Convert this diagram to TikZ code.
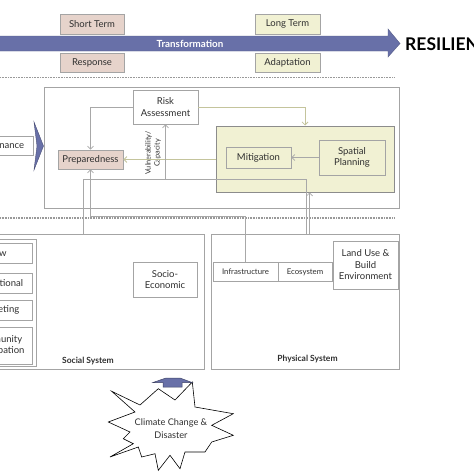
\documentclass[tikz,border=0pt]{standalone}
\usepackage{fontspec}
\setmainfont{Lato}
\usetikzlibrary{arrows.meta}
\definecolor{boxgray}{HTML}{A4A4A4}
\definecolor{linegray}{HTML}{A8A8A8}
\definecolor{lineyel}{HTML}{C4C49C}
\definecolor{pinkfill}{HTML}{E6D3CB}
\definecolor{yelfill}{HTML}{F1F1D3}
\definecolor{slate}{HTML}{6870A8}
\definecolor{txt}{HTML}{303030}
\tikzset{
  box/.style={draw=boxgray, line width=0.8pt, fill=white, inner sep=1pt, align=center,
    text=txt, font=\fontsize{9.5}{11.5}\selectfont},
  pinkbox/.style={box, fill=pinkfill},
  yelbox/.style={box, fill=yelfill},
  smallbox/.style={box, font=\fontsize{7.8}{9.5}\selectfont},
  frame/.style={draw=boxgray, line width=0.9pt, inner sep=0pt},
  conn/.style={draw=linegray, line width=0.7pt},
  connyel/.style={draw=lineyel, line width=0.8pt},
  arr/.style={-{Straight Barb[length=3pt,width=6pt]}},
  dotline/.style={draw=gray!80, line width=1.3pt, dash pattern=on 0.7pt off 0.9pt},
  lbl/.style={text=txt, font=\bfseries\fontsize{8.5}{10}\selectfont},
}
\begin{document}
\begin{tikzpicture}[x=1pt,y=-1pt]
\useasboundingbox (0,0) rectangle (474,474);
\clip (0,0) rectangle (474,474);
\fill[white] (0,0) rectangle (474,474);

% top band
\node[pinkbox, minimum width=64, minimum height=20] (short) at (92,24) {Short Term};
\node[pinkbox, minimum width=64, minimum height=19] (resp) at (92,62.5) {Response};
\node[yelbox, minimum width=65, minimum height=20] (long) at (287.5,24) {Long Term};
\node[yelbox, minimum width=65, minimum height=19] (adapt) at (287.5,62.5) {Adaptation};
\path[fill=slate, draw=slate!80!black, line width=0.4pt]
  (-5,36) -- (388,36) -- (388,29) -- (400,43.5) -- (388,57) -- (388,51) -- (-5,51) -- cycle;
\node[text=white, font=\bfseries\fontsize{9.8}{11}\selectfont] (transf) at (190,43.5) {Transformation};
\node[anchor=west, inner sep=0pt, font=\bfseries\fontsize{17.5}{19}\selectfont] (resil) at (405,44) {RESILIENCE};
\path[dotline] (0,77.5) -- (395,77.5);

% middle block
\node[frame, minimum width=355, minimum height=121] (mainbox) at (221.5,147.5) {};
\node[box, minimum width=68, minimum height=19] (gov) at (-1,145.5) {Governance};
\path[fill=slate, draw=slate!70!black, line width=0.4pt]
  (34,122) -- (43.5,146) -- (34,170) -- (37,146) -- cycle;
\node[box, minimum width=65, minimum height=34] (ra) at (165.5,107) {Risk\\Assessment};
\node[pinkbox, minimum width=65, minimum height=19] (prep) at (90.5,159.5) {Preparedness};
\node[yelbox, draw=gray!90, line width=1pt, minimum width=178, minimum height=66] (yelbig) at (305,159) {};
\node[yelbox, minimum width=65, minimum height=21] (mit) at (258.5,157.5) {Mitigation};
\node[yelbox, minimum width=66, minimum height=35] (sp) at (352,157.5) {Spatial\\Planning};
\node[rotate=90, align=center, text=txt, inner sep=0pt, font=\fontsize{7.3}{9}\selectfont] (vuln) at (153,153) {Vulnerability/\\Capacity};

% lower block
\node[frame, minimum width=248, minimum height=135] (social) at (80,301.5) {};
\node[frame, minimum width=76, minimum height=127] (column) at (-2,302.5) {};
\node[box, minimum width=68, minimum height=20] (law) at (-2,253) {Law};
\node[box, minimum width=68, minimum height=20] (inst) at (-2,283) {Institutional};
\node[box, minimum width=68, minimum height=20] (budg) at (-2,310) {Budgeting};
\node[box, minimum width=68, minimum height=37] (comm) at (-2,345.5) {Community\\Participation};
\node[box, minimum width=64, minimum height=35] (socio) at (165,279.5) {Socio-\\Economic};
\node[lbl] (soclbl) at (88,361) {Social System};
\node[frame, minimum width=188, minimum height=135] (phys) at (305,301.5) {};
\node[smallbox, minimum width=65, minimum height=19] (infra) at (245.5,272) {Infrastructure};
\node[smallbox, minimum width=54, minimum height=19] (eco) at (305,272) {Ecosystem};
\node[box, minimum width=65, minimum height=48] (land) at (365.5,265) {Land Use \&\\Build\\Environment};
\node[lbl] (physlbl) at (307.5,359) {Physical System};
\path[dotline] (0,218) -- (395,218);

% connectors
\coordinate (j1) at (83,179);
\coordinate (j2) at (306,179);
\coordinate (j3) at (165.5,179);
\coordinate (k) at (90.5,216);
\draw[conn, arr] (ra.west) -| (prep.north);
\draw[connyel, arr] (ra.east) -| (yelbig.north);
\draw[connyel, arr] (prep.east -| yelbig.west) -- (prep.east);
\draw[conn, arr] (sp.west) -- (mit.east);
\draw[conn] (social.north -| j1) -- (j1) -- (j2) -- (phys.north -| j2);
\draw[conn, arr] (j3) -- (ra.south);
\draw[conn, arr] (phys.north -| 309.5,0) -- (yelbig.south -| 309.5,0);
\draw[conn, arr] (infra.north) |- (k) -- (prep.south);

% climate change star
\path[draw=black, fill=white, line width=0.6pt]
  (111.7,391.3) -- (140,405) -- (158.3,388.7) -- (175,400) -- (192.3,382)
  -- (195,407) -- (233.3,413.7) -- (211.7,425.3) -- (233.3,435.3) -- (211.7,442)
  -- (205,452) -- (185,452) -- (180,468.7) -- (170,455.3) -- (158.3,470.3)
  -- (155,453.7) -- (141.7,457) -- (138.3,447) -- (110,457) -- (133.3,443.7)
  -- (123.3,438.7) -- (130,432) -- (108.3,422) -- (135,412) -- cycle;
\path[fill=slate, draw=slate!60!black, line width=0.5pt]
  (163,387) -- (163,382.5) -- (153,382.5) -- (166,378) -- (180,378) -- (192,382.5)
  -- (182,382.5) -- (182,387) -- cycle;
\node[align=center, text=txt, inner sep=0pt, font=\fontsize{9.2}{13}\selectfont] (climate) at (171,428.5) {Climate Change \&\\Disaster};
\end{tikzpicture}
\end{document}
